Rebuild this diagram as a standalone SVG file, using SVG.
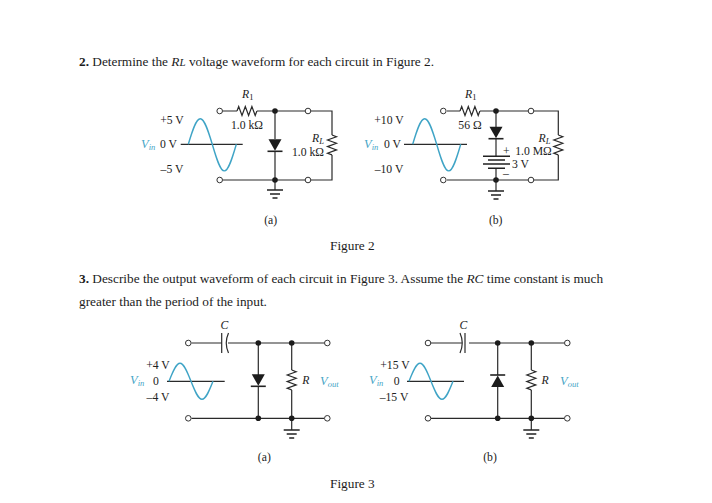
<svg xmlns="http://www.w3.org/2000/svg" width="712" height="503" viewBox="0 0 712 503">
<style>
.t{font-family:"Liberation Serif","Times New Roman",serif;fill:#1c1c1c}
.b{font-size:13.3px}
.s{font-size:11.7px;fill:#222}
.i{font-style:italic}
.v{font-size:12.5px;font-style:italic;fill:#45a5c6}
.w{fill:none;stroke:#2a2a2a;stroke-width:1.2}
.g{fill:none;stroke:#222;stroke-width:1.6}
.o{fill:#fff;stroke:#333;stroke-width:1}
.d{fill:#1c1c1c}
.sn{fill:none;stroke:#3fa4c6;stroke-width:1.4}
.sub{font-size:8.5px}
</style>
<defs>
<path id="zig" class="w" d="M0,0l1.700,-4.500l3.300,9l3.300,-9l3.300,9l3.300,-9l3.300,9l1.700,-4.500"/>
<g id="diode"><polygon class="d" points="-6.500,0 6.500,0 0,11.500"/><path class="g" d="M-7.500,12H7.500"/></g>
<g id="gnd"><path class="g" d="M-8,0H8M-5,4H5M-2.500,8H2.500"/></g>
<path id="s1" class="sn" d="M0,0c3.900,-13.300 7.700,-25.600 12,-25.600c4.300,0 8.100,12.700 12,25.600c3.900,13.300 7.700,26.600 12,26.600c4.300,0 8.100,-13.300 12,-26.600"/>
<path id="s2" class="sn" d="M0,0c3.600,-9.200 7,-18 11,-18c4,0 7.400,8.800 11,18c3.600,9.200 7,18 11,18c4,0 7.400,-8.800 11,-18"/>
</defs>

<g id="prose">
<text class="t b" x="79" y="66"><tspan font-weight="bold">2.</tspan> Determine the <tspan class="i">R</tspan><tspan class="i" font-size="11">L</tspan> voltage waveform for each circuit in Figure 2.</text>
<text class="t b" x="330" y="250">Figure 2</text>
<text class="t b" x="79" y="283"><tspan font-weight="bold">3.</tspan> Describe the output waveform of each circuit in Figure 3. Assume the <tspan class="i">RC</tspan> time constant is much</text>
<text class="t b" x="79" y="306">greater than the period of the input.</text>
<text class="t b" x="330" y="488">Figure 3</text>
</g>

<g id="connectors">
<path class="w" d="M223,111H237M257,111H305M311,111H332V135M332,155V180H311M305,180H223M275,111V139M275,151V190M180.700,144.300H242.700"/>
<path class="w" d="M447,111H460M480,111H528M534,111H558.300V135M558.300,155V180H534M528,180H447M496,111V127M496,138V156M496,168V191M404,144.300H467"/>
<path class="w" d="M191.500,343H221.700M228,343H324M324,418.300H191.500M258.300,343V375M258.300,386V418.300M291.700,343V370M291.700,390V430M167,381.300H224.700"/>
<path class="w" d="M431,343H462M469,343H564M564,418.300H431M497.700,343V375M497.700,387V418.300M531.300,343V370M531.300,390V430M407,381.300H464"/>
</g>

<g id="circuit-2a">
<circle class="o" cx="219.700" cy="111" r="2.800"/><circle class="o" cx="308" cy="111" r="2.800"/><circle class="o" cx="219.700" cy="180" r="2.800"/><circle class="o" cx="308" cy="180" r="2.800"/>
<circle class="d" cx="275" cy="111" r="2.800"/><circle class="d" cx="275" cy="180" r="2.800"/>
<use href="#zig" x="237" y="111"/>
<use href="#zig" transform="translate(332,135) rotate(90)"/>
<use href="#diode" x="275" y="139.300"/>
<use href="#gnd" x="275" y="190"/>
<use href="#s1" x="188.300" y="144.300"/>
<text class="t s i" x="242" y="98">R<tspan class="sub" dy="2" font-style="normal">1</tspan></text>
<text class="t s" x="247" y="129" text-anchor="middle">1.0 kΩ</text>
<text class="t s" x="172" y="124" text-anchor="middle">+5 V</text>
<text class="t v" x="141" y="148">V<tspan class="sub" dy="2">in</tspan></text>
<text class="t s" x="168.500" y="148" text-anchor="middle">0 V</text>
<text class="t s" x="172" y="173" text-anchor="middle">–5 V</text>
<text class="t s i" x="312" y="142">R<tspan class="sub" dy="2">L</tspan></text>
<text class="t s" x="324" y="156" text-anchor="end">1.0 kΩ</text>
<text class="t s" x="270.700" y="224" text-anchor="middle">(a)</text>
</g>

<g id="circuit-2b">
<circle class="o" cx="443.300" cy="111" r="2.800"/><circle class="o" cx="531" cy="111" r="2.800"/><circle class="o" cx="443.300" cy="180" r="2.800"/><circle class="o" cx="531" cy="180" r="2.800"/>
<circle class="d" cx="496" cy="111" r="2.800"/><circle class="d" cx="496" cy="180" r="2.800"/>
<use href="#zig" x="460" y="111"/>
<use href="#zig" transform="translate(558.300,135) rotate(90)"/>
<use href="#diode" x="496" y="126.700"/>
<path class="g" d="M483,156.300H510M488,160H505M483,164H510M488,168.300H505"/>
<use href="#gnd" x="496" y="191"/>
<use href="#s1" x="412.700" y="144.300"/>
<text class="t s i" x="465" y="98">R<tspan class="sub" dy="2" font-style="normal">1</tspan></text>
<text class="t s" x="470" y="129" text-anchor="middle">56 Ω</text>
<text class="t s" x="389" y="124" text-anchor="middle">+10 V</text>
<text class="t v" x="364" y="148">V<tspan class="sub" dy="2">in</tspan></text>
<text class="t s" x="392.500" y="148" text-anchor="middle">0 V</text>
<text class="t s" x="389" y="173" text-anchor="middle">–10 V</text>
<text class="t s i" x="538.500" y="142">R<tspan class="sub" dy="2">L</tspan></text>
<text class="t s" x="533.500" y="155" text-anchor="middle">1.0 MΩ</text>
<text class="t s" x="503" y="155">+</text>
<text class="t s" x="512" y="168">3 V</text>
<text class="t s" x="503" y="177">–</text>
<text class="t s" x="495.700" y="224" text-anchor="middle">(b)</text>
</g>

<g id="circuit-3a">
<circle class="o" cx="188.300" cy="343" r="2.800"/><circle class="o" cx="327.300" cy="343" r="2.800"/><circle class="o" cx="188.300" cy="418.300" r="2.800"/><circle class="o" cx="327.300" cy="418.300" r="2.800"/>
<circle class="d" cx="258.300" cy="343" r="2.800"/><circle class="d" cx="291.700" cy="343" r="2.800"/><circle class="d" cx="258.300" cy="418.300" r="2.800"/><circle class="d" cx="291.700" cy="418.300" r="2.800"/>
<path class="w" d="M221.700,333V353M228.500,333Q224,343 228.500,353"/>
<use href="#diode" x="258.300" y="374.300"/>
<use href="#zig" transform="translate(291.700,370) rotate(90)"/>
<use href="#gnd" x="291.700" y="430"/>
<use href="#s2" x="169" y="381.300"/>
<text class="t s i" x="224.300" y="329" text-anchor="middle">C</text>
<text class="t s" x="158" y="369" text-anchor="middle">+4 V</text>
<text class="t v" x="130" y="384">V<tspan class="sub" dy="2">in</tspan></text>
<text class="t s" x="156" y="385" text-anchor="middle">0</text>
<text class="t s" x="158" y="401" text-anchor="middle">–4 V</text>
<text class="t s i" x="305.700" y="384" text-anchor="middle">R</text>
<text class="t v" x="320" y="385">V<tspan class="sub" dy="2">out</tspan></text>
<text class="t s" x="264.300" y="461" text-anchor="middle">(a)</text>
</g>

<g id="circuit-3b">
<circle class="o" cx="428" cy="343" r="2.800"/><circle class="o" cx="567.300" cy="343" r="2.800"/><circle class="o" cx="428" cy="418.300" r="2.800"/><circle class="o" cx="567.300" cy="418.300" r="2.800"/>
<circle class="d" cx="497.700" cy="343" r="2.800"/><circle class="d" cx="531.300" cy="343" r="2.800"/><circle class="d" cx="497.700" cy="418.300" r="2.800"/><circle class="d" cx="531.300" cy="418.300" r="2.800"/>
<path class="w" d="M465,333V353M460,333Q464.500,343 460,353"/>
<use href="#diode" transform="translate(497.700,387) scale(1,-1)"/>
<use href="#zig" transform="translate(531.300,370) rotate(90)"/>
<use href="#gnd" x="531.300" y="430"/>
<use href="#s2" x="409" y="381.300"/>
<text class="t s i" x="463.500" y="329" text-anchor="middle">C</text>
<text class="t s" x="395" y="369" text-anchor="middle">+15 V</text>
<text class="t v" x="369" y="384">V<tspan class="sub" dy="2">in</tspan></text>
<text class="t s" x="396.700" y="385" text-anchor="middle">0</text>
<text class="t s" x="394" y="401" text-anchor="middle">–15 V</text>
<text class="t s i" x="545" y="384" text-anchor="middle">R</text>
<text class="t v" x="560" y="385">V<tspan class="sub" dy="2">out</tspan></text>
<text class="t s" x="490" y="461" text-anchor="middle">(b)</text>
</g>
</svg>
